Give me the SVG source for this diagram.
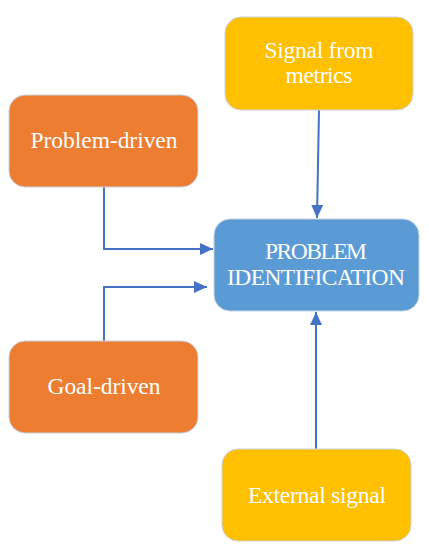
<svg xmlns="http://www.w3.org/2000/svg" width="429" height="550" viewBox="0 0 429 550">
<style>
.box{stroke:#c9d3e3;stroke-width:1}
.orange{fill:#ED7D31}
.gold{fill:#FFC000}
.blue{fill:#5B9BD5}
.lbl{font-family:"Liberation Serif","Times New Roman",serif;font-size:23.5px;fill:#ffffff;text-anchor:middle}
.conn{fill:none;stroke:#4472C4;stroke-width:2}
</style>
<defs>
<marker id="arr" markerUnits="userSpaceOnUse" markerWidth="14" markerHeight="14" viewBox="0 0 14 14" refX="13" refY="7" orient="auto">
<path d="M0,1 L13,7 L0,13 Z" fill="#4472C4"/>
</marker>
</defs>
<rect width="429" height="550" fill="#ffffff"/>
<g id="connectors">
<path class="conn" d="M319,110 L317,218" marker-end="url(#arr)"/>
<path class="conn" d="M104,187 L104,249 L213,249" marker-end="url(#arr)"/>
<path class="conn" d="M104,341 L104,287 L207,287" marker-end="url(#arr)"/>
<path class="conn" d="M316,449 L316,312" marker-end="url(#arr)"/>
</g>
<g id="signal-from-metrics">
<rect class="box gold" x="225" y="17" width="188" height="93" rx="16"/>
<text class="lbl" x="319" y="58" textLength="109">Signal from</text>
<text class="lbl" x="319" y="83" textLength="67">metrics</text>
</g>
<g id="problem-driven">
<rect class="box orange" x="9" y="95" width="189" height="92" rx="16"/>
<text class="lbl" x="104" y="148" textLength="147">Problem-driven</text>
</g>
<g id="problem-identification">
<rect class="box blue" x="214" y="219" width="205" height="92" rx="16"/>
<text class="lbl" x="316" y="259" textLength="102">PROBLEM</text>
<text class="lbl" x="316" y="285" textLength="178">IDENTIFICATION</text>
</g>
<g id="goal-driven">
<rect class="box orange" x="9" y="341" width="189" height="92" rx="16"/>
<text class="lbl" x="104" y="394" textLength="113">Goal-driven</text>
</g>
<g id="external-signal">
<rect class="box gold" x="222" y="449" width="189" height="92" rx="16"/>
<text class="lbl" x="317" y="503" textLength="138">External signal</text>
</g>
</svg>
